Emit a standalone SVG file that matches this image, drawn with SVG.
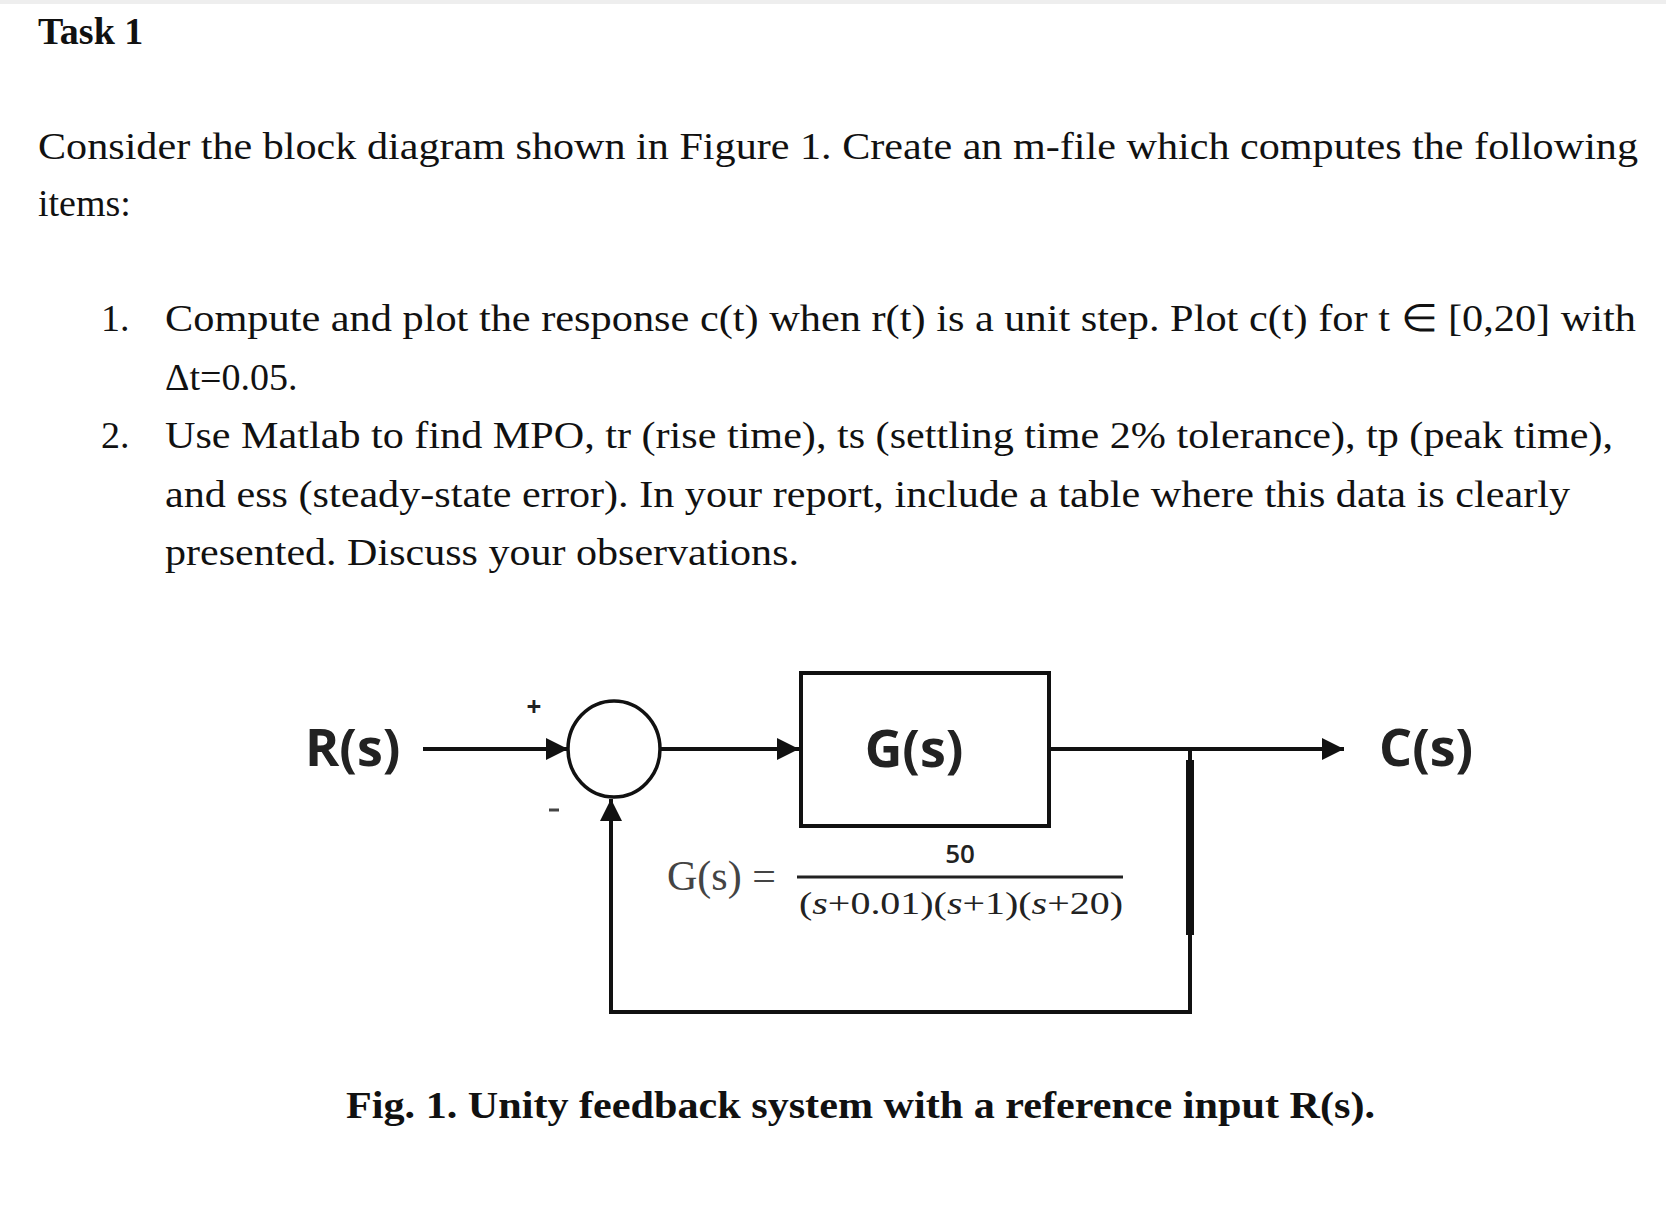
<svg xmlns="http://www.w3.org/2000/svg" width="1666" height="1206" viewBox="0 0 1666 1206">
<defs>
<style>
.t{font-family:"Liberation Serif",serif;fill:#111;font-size:38px}
.b{font-weight:bold}
.s{font-family:"Open Sans","Liberation Sans",sans-serif;font-weight:700;fill:#222}
.ln{stroke:#111;fill:none;stroke-width:4}
</style>
<marker id="ah2" viewBox="0 0 10 10" refX="10" refY="5" markerWidth="24" markerHeight="22" orient="auto" markerUnits="userSpaceOnUse">
<path d="M0,0 L10,5 L0,10 z" fill="#111"/>
</marker>
</defs>
<rect width="1666" height="1206" fill="#fff"/>
<rect width="1666" height="4" fill="#eee"/>
<text class="t b" x="38" y="44" font-size="36">Task 1</text>
<text class="t" x="38" y="159" textLength="1600" lengthAdjust="spacingAndGlyphs">Consider the block diagram shown in Figure 1. Create an m-file which computes the following</text>
<text class="t" x="38" y="216">items:</text>
<text class="t" x="101" y="331">1.</text>
<text class="t" x="165" y="331" textLength="1471" lengthAdjust="spacingAndGlyphs">Compute and plot the response c(t) when r(t) is a unit step. Plot c(t) for t ∈ [0,20] with</text>
<text class="t" x="165" y="390">Δt=0.05.</text>
<text class="t" x="101" y="448">2.</text>
<text class="t" x="165" y="448" textLength="1448" lengthAdjust="spacingAndGlyphs">Use Matlab to find MPO, tr (rise time), ts (settling time 2% tolerance), tp (peak time),</text>
<text class="t" x="165" y="507" textLength="1405" lengthAdjust="spacingAndGlyphs">and ess (steady-state error). In your report, include a table where this data is clearly</text>
<text class="t" x="165" y="565" textLength="634" lengthAdjust="spacingAndGlyphs">presented. Discuss your observations.</text>

<g id="connectors">
<line class="ln" x1="423" y1="749" x2="568" y2="749" marker-end="url(#ah2)"/>
<line class="ln" x1="661" y1="749" x2="799" y2="749" marker-end="url(#ah2)"/>
<line class="ln" x1="1049" y1="749" x2="1344" y2="749" marker-end="url(#ah2)"/>
<polyline class="ln" points="1190,749 1190,1012 611,1012 611,799" stroke-width="5" marker-end="url(#ah2)"/>
<line x1="1190" y1="760" x2="1190" y2="935" stroke="#111" stroke-width="8"/>
</g>
<g id="input"><text class="s" x="305" y="766" font-size="52">R(s)</text></g>
<g id="sum">
<ellipse cx="614" cy="749" rx="46" ry="48" fill="#fff" stroke="#111" stroke-width="3.5"/>
<text class="s" x="534" y="716" font-size="26" text-anchor="middle">+</text>
<line x1="549" y1="810" x2="559" y2="810" stroke="#444" stroke-width="3"/>
</g>
<g id="plant">
<rect x="801" y="673" width="248" height="153" fill="#fff" stroke="#111" stroke-width="4"/>
<text class="s" x="914" y="767" font-size="52" text-anchor="middle">G(s)</text>
</g>
<g id="output"><text class="s" x="1379" y="766" font-size="52">C(s)</text></g>
<g id="formula">
<text x="667" y="890" font-family="Liberation Serif,serif" font-size="42" fill="#444">G(s) =</text>
<text x="960" y="863" font-family="Open Sans,Liberation Sans,sans-serif" font-weight="600" font-size="26" fill="#222" text-anchor="middle">50</text>
<line x1="797" y1="877" x2="1123" y2="877" stroke="#222" stroke-width="3"/>
<text x="799" y="914" font-family="Liberation Serif,serif" font-size="31" fill="#222" textLength="324" lengthAdjust="spacingAndGlyphs">(<tspan font-style="italic">s</tspan>+0.01)(<tspan font-style="italic">s</tspan>+1)(<tspan font-style="italic">s</tspan>+20)</text>
</g>
<text class="t b" x="346" y="1118" textLength="1029" lengthAdjust="spacingAndGlyphs">Fig. 1. Unity feedback system with a reference input R(s).</text>
</svg>
